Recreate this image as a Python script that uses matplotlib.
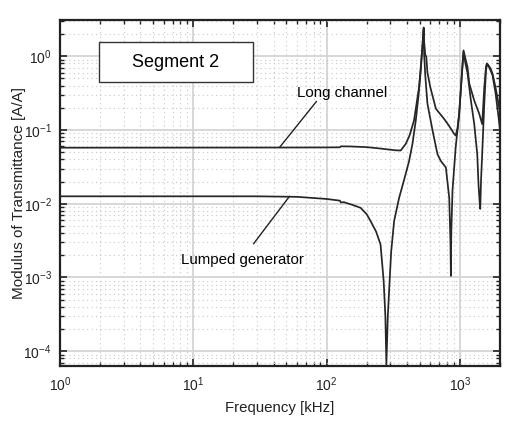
import matplotlib
matplotlib.use("Agg")
import matplotlib.pyplot as plt
from matplotlib.patches import Rectangle
from matplotlib.ticker import LogLocator, NullFormatter

# ---- data ----
long_f = [1, 50, 100, 126, 128, 150, 200, 250, 280, 330, 360, 393, 420, 453, 494, 524,
          535, 539, 550, 560, 571, 600, 661, 760, 826, 905, 930, 960, 988, 1030, 1065,
          1090, 1140, 1175, 1282, 1397, 1470, 1525, 1570, 1595, 1650, 1700, 1758, 1850,
          1973, 2000]
long_v = [0.0575, 0.0578, 0.058, 0.0582, 0.0600, 0.0598, 0.0585, 0.0562, 0.0548, 0.053,
          0.0527, 0.065, 0.085, 0.135, 0.38, 1.34, 2.45, 1.6, 1.05, 0.98, 0.6, 0.38, 0.194,
          0.142, 0.115, 0.089, 0.084, 0.105, 0.166, 0.5, 1.2, 1.0, 0.72, 0.43, 0.25, 0.166,
          0.12, 0.38, 0.72, 0.8, 0.74, 0.68, 0.58, 0.38, 0.204, 0.19]

lump_f = [1, 30, 60, 100, 126, 128, 135, 160, 180, 200, 214, 235, 254, 268, 276, 281,
          288, 295, 305, 321, 350, 380, 416, 441, 467, 490, 509, 525, 535, 539, 550, 571,
          624, 679, 720, 785, 832, 850, 856, 862, 880, 930, 988, 1030, 1065, 1100, 1140,
          1210, 1282, 1350, 1380, 1405, 1422, 1440, 1470, 1525, 1570, 1595, 1650, 1700,
          1758, 1850, 1950, 2000]
lump_v = [0.0126, 0.0126, 0.0124, 0.0116, 0.0110, 0.0104, 0.0105, 0.0095, 0.0088, 0.0072,
          0.0058, 0.0042, 0.0028, 0.0009, 0.0003, 0.000066, 0.0003, 0.0007, 0.0022, 0.0058,
          0.012, 0.0205, 0.038, 0.065, 0.135, 0.3, 0.645, 1.5, 2.3, 1.09, 0.55, 0.227,
          0.098, 0.047, 0.038, 0.031, 0.012, 0.003, 0.00105, 0.004, 0.015, 0.058, 0.166,
          0.5, 1.15, 0.8, 0.6, 0.25, 0.12, 0.047, 0.018, 0.011, 0.0085, 0.02, 0.047, 0.23,
          0.65, 0.78, 0.72, 0.64, 0.55, 0.32, 0.15, 0.1]

x_label = "Frequency [kHz]"
y_label = "Modulus of Transmittance [A/A]"
title_box = "Segment 2"
label_long = "Long channel"
label_lump = "Lumped generator"

# ---- style ----
plt.rcParams['font.family'] = ['Liberation Sans', 'DejaVu Sans']
plt.rcParams['mathtext.fontset'] = 'custom'
plt.rcParams['mathtext.rm'] = 'Liberation Sans'
plt.rcParams['mathtext.it'] = 'Liberation Sans:italic'
plt.rcParams['mathtext.default'] = 'regular'

txt = '#222222'
fig = plt.figure(figsize=(5.16, 4.24), dpi=100)
ax = fig.add_axes([60/516, 58/424, 440/516, 346/424])

ax.plot(long_f, long_v, color='#262626', lw=1.25, zorder=3)
ax.plot(lump_f, lump_v, color='#262626', lw=1.25, zorder=3)

ax.set_xscale('log')
ax.set_yscale('log')
ax.set_xlim(1, 2000)
ax.set_ylim(6.3e-5, 3.1)

ax.xaxis.set_major_locator(LogLocator(base=10, numticks=10))
ax.xaxis.set_minor_locator(LogLocator(base=10, subs=range(2, 10), numticks=20))
ax.yaxis.set_major_locator(LogLocator(base=10, numticks=10))
ax.yaxis.set_minor_locator(LogLocator(base=10, subs=range(2, 10), numticks=20))
ax.xaxis.set_minor_formatter(NullFormatter())
ax.yaxis.set_minor_formatter(NullFormatter())

ax.grid(True, which='major', color='#d4d4d4', lw=1.3, ls='-', zorder=0)
ax.grid(True, which='minor', color='#c8c8c8', lw=0.8, ls=(0, (1, 3)), zorder=0)
ax.set_axisbelow(True)

ax.tick_params(which='both', direction='in', top=True, right=True, colors='#222222',
               labelcolor=txt)
ax.tick_params(which='major', length=5, width=1.2, labelsize=10)
ax.tick_params(axis='y', which='major', pad=6)
ax.tick_params(axis='x', which='major', pad=7)
ax.tick_params(which='minor', length=3, width=1.0)
for s in ax.spines.values():
    s.set_linewidth(1.6)
    s.set_color('#222222')

ax.set_xlabel(x_label, fontsize=10.8, color=txt, labelpad=5)
ax.set_ylabel(y_label, fontsize=11, color=txt)
ax.yaxis.set_label_coords(-0.077, 0.5)

# title box
ax.add_patch(Rectangle((0.0886, 0.821), 0.35, 0.115, transform=ax.transAxes,
                       facecolor='white', edgecolor='#333333', lw=1.0, zorder=4))
ax.text(0.2636, 0.8785, title_box, transform=ax.transAxes, ha='center', va='center',
        fontsize=13, color='black', zorder=5)

# annotations
ax.annotate('', xy=(44.3, 0.0578), xytext=(84, 0.244),
            arrowprops=dict(arrowstyle='-', color='#222222', lw=1.0,
                            shrinkA=0, shrinkB=0), zorder=4)
ax.text(130, 0.32, label_long, ha='center', va='center', fontsize=10.8, color='black',
        zorder=5)
ax.annotate('', xy=(52.7, 0.0126), xytext=(28.3, 0.00286),
            arrowprops=dict(arrowstyle='-', color='#222222', lw=1.0,
                            shrinkA=0, shrinkB=0), zorder=4)
ax.text(23.2, 0.00173, label_lump, ha='center', va='center', fontsize=10.8,
        color='black', zorder=5)

fig.savefig('out.png', dpi=100, facecolor='white')
